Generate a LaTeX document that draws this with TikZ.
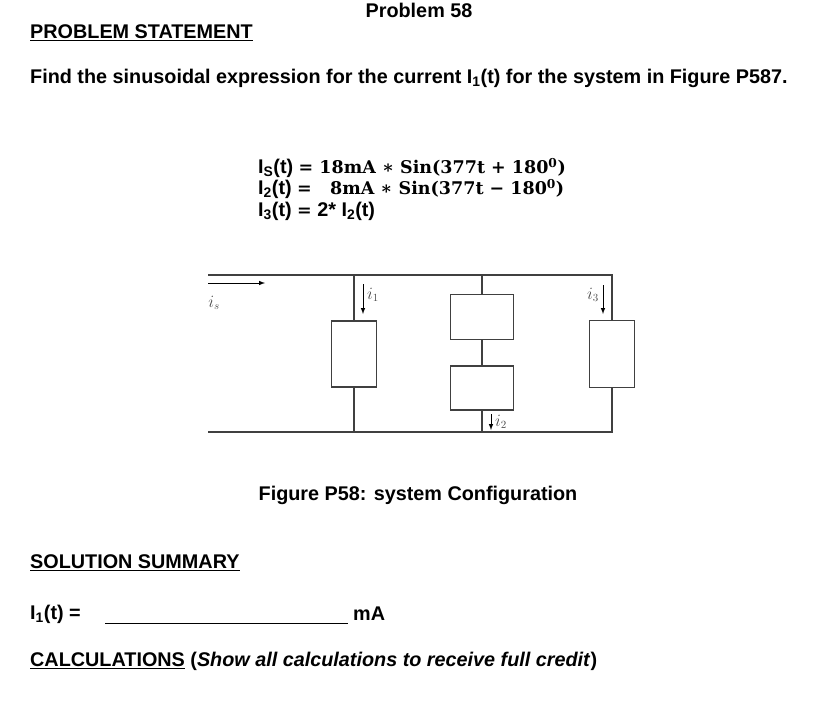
\documentclass[tikz,border=0pt]{standalone}
\usepackage{fontspec}
\setmainfont{Liberation Sans}
\newfontfamily\serifb{DejaVu Serif}
\begin{document}
\begin{tikzpicture}[x=1pt,y=-1pt,
  txt/.style={font=\fontsize{19.8}{22}\selectfont\bfseries,inner sep=0pt,anchor=west},
  wire/.style={line width=1.2pt,draw=black!75},
  comp/.style={draw=black!75,line width=1.2pt,fill=white,minimum width=45pt,inner sep=0pt},
  lbl/.style={font=\fontsize{16}{18}\selectfont,inner sep=0pt,text=black!70},
  arr/.style={-latex,line width=1pt}]
\useasboundingbox (0,0) rectangle (822,701);
\newcommand\eqs[1]{{\serifb\bfseries\fontsize{17.5}{20}\selectfont #1}}
\node[txt,anchor=center] (title) at (419,10) {Problem 58};
\node[txt] (ps) at (30,33) {\underline{PROBLEM STATEMENT}};
\node[txt] (find) at (30,78) {Find the sinusoidal expression for the current I\textsubscript{1}(t) for the system in Figure P587.};
\node[txt] (e1) at (258,168) {I\textsubscript{S}(t) \eqs{= 18mA ∗ Sin(377t + 180\textsuperscript{0})}};
\node[txt] (e2) at (258,189) {I\textsubscript{2}(t) \eqs{=\ \ \ 8mA ∗ Sin(377t − 180\textsuperscript{0})}};
\node[txt] (e3) at (258,211) {I\textsubscript{3}(t) \eqs{=} 2* I\textsubscript{2}(t)};
% circuit
\coordinate (tl) at (208,275); \coordinate (tr) at (612,275);
\coordinate (bl) at (208,432); \coordinate (br) at (612,432);
\coordinate (t1) at (354,275); \coordinate (b1) at (354,432);
\coordinate (t2) at (482,275); \coordinate (b2) at (482,432);
\draw[wire] (tl) -- (tr) -- (br) -- (bl);
\draw[wire] (t1) -- (b1);
\draw[wire] (t2) -- (b2);
\node[comp,minimum height=66pt] (r1) at (354,354) {};
\node[comp,minimum width=63pt,minimum height=45pt] (r2a) at (482,317) {};
\node[comp,minimum width=63pt,minimum height=44pt] (r2b) at (482,388) {};
\node[comp,minimum height=67pt] (r3) at (612,354) {};
\coordinate (as1) at (208,283); \coordinate (as2) at (265,283);
\draw[arr] (as1) -- (as2);
\node[lbl] (is) at (214,303) {$i_s$};
\coordinate (a1s) at (363,284); \coordinate (a1e) at (363,314);
\draw[arr] (a1s) -- (a1e);
\node[lbl] (i1) at (373,295) {$i_1$};
\coordinate (a2s) at (491,414); \coordinate (a2e) at (491,430);
\draw[arr] (a2s) -- (a2e);
\node[lbl] (i2) at (501,422) {$i_2$};
\coordinate (a3s) at (603,285); \coordinate (a3e) at (603,314);
\draw[arr] (a3s) -- (a3e);
\node[lbl] (i3) at (593,295) {$i_3$};
\node[txt,anchor=center] (fig) at (418,495) {Figure P58: system Configuration};
\node[txt] (ss) at (30,563) {\underline{SOLUTION SUMMARY}};
\node[txt] (ans) at (30,614) {I\textsubscript{1}(t) =};
\coordinate (l1) at (105,623); \coordinate (l2) at (348,623);
\draw[line width=1pt] (l1) -- (l2);
\node[txt] (ma) at (353,614) {mA};
\node[txt] (calc) at (30,661) {\underline{CALCULATIONS} (\textit{Show all calculations to receive full credit})};
\end{tikzpicture}
\end{document}
